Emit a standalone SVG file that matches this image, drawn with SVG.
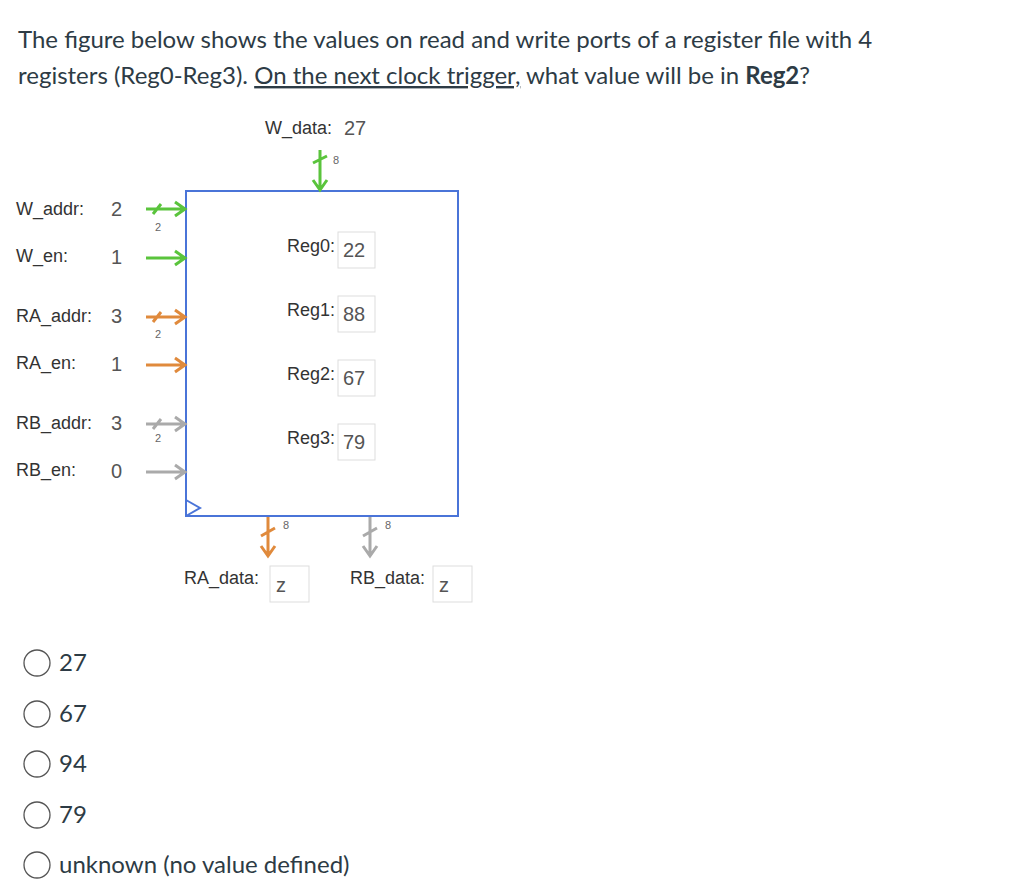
<svg xmlns="http://www.w3.org/2000/svg" width="1024" height="896" viewBox="0 0 1024 896">
<style>
.q{font-family:Lato,"Open Sans",sans-serif;font-size:24px;fill:#2d3b45}
.l{font-family:"Liberation Sans",Arial,sans-serif;font-size:18px;fill:#333}
.v{font-family:"Liberation Sans",Arial,sans-serif;font-size:20px;fill:#555}
.s{font-family:"Liberation Sans",Arial,sans-serif;font-size:11px;fill:#666}
.g{stroke:#5ac43c;stroke-width:3;fill:none}
.o{stroke:#e08a3c;stroke-width:3;fill:none}
.y{stroke:#aaa;stroke-width:3;fill:none}
.rb{fill:#fff;stroke:#ddd;stroke-width:1}
.opt{fill:#fff;stroke:#555;stroke-width:1.3}
</style>
<rect width="1024" height="896" fill="#fff"/>
<text class="q" x="18" y="48">The figure below shows the values on read and write ports of a register file with 4</text>
<text class="q" x="18" y="84">registers (Reg0-Reg3). <tspan text-decoration="underline">On the next clock trigger,</tspan> what value will be in <tspan font-weight="bold">Reg2</tspan>?</text>
<g id="regfile">
<rect x="186" y="191" width="272" height="325" fill="#fff" stroke="#4a74d8" stroke-width="2"/>
<polyline points="186,500 200,508 186,516" fill="none" stroke="#4a74d8" stroke-width="2"/>
<text class="l" x="335" y="252" text-anchor="end">Reg0:</text><rect class="rb" x="338" y="232" width="37" height="36"/><text class="v" x="343" y="257" fill="#222">22</text>
<text class="l" x="335" y="316" text-anchor="end">Reg1:</text><rect class="rb" x="338" y="296" width="37" height="36"/><text class="v" x="343" y="321" fill="#222">88</text>
<text class="l" x="335" y="380" text-anchor="end">Reg2:</text><rect class="rb" x="338" y="360" width="37" height="36"/><text class="v" x="343" y="385" fill="#222">67</text>
<text class="l" x="335" y="444" text-anchor="end">Reg3:</text><rect class="rb" x="338" y="424" width="37" height="36"/><text class="v" x="343" y="449" fill="#222">79</text>
</g>
<g id="labels">
<text class="l" x="16" y="215">W_addr:</text><text class="v" x="111" y="216">2</text>
<text class="l" x="16" y="262">W_en:</text><text class="v" x="111" y="264">1</text>
<text class="l" x="16" y="322">RA_addr:</text><text class="v" x="111" y="323">3</text>
<text class="l" x="16" y="369">RA_en:</text><text class="v" x="111" y="371">1</text>
<text class="l" x="16" y="429">RB_addr:</text><text class="v" x="111" y="430">3</text>
<text class="l" x="16" y="476">RB_en:</text><text class="v" x="111" y="478">0</text>
<text class="l" x="265" y="134">W_data:</text><text class="v" x="344" y="135">27</text>
<text class="l" x="184" y="584">RA_data:</text><rect class="rb" x="270" y="566" width="39" height="36"/><text class="v" x="276" y="592" fill="#222">z</text>
<text class="l" x="350" y="584">RB_data:</text><rect class="rb" x="433" y="566" width="39" height="36"/><text class="v" x="439" y="592" fill="#222">z</text>
</g>
<g id="connectors">
<path class="g" d="M146,209H185M175,202L185,209L175,216M153,214L161,204"/><text class="s" x="155" y="231">2</text>
<path class="g" d="M146,258H185M175,251L185,258L175,265"/>
<path class="o" d="M146,317H185M175,310L185,317L175,324M153,322L161,312"/><text class="s" x="155" y="338">2</text>
<path class="o" d="M146,365H185M175,358L185,365L175,372"/>
<path class="y" d="M146,424H185M175,417L185,424L175,431M153,429L161,419"/><text class="s" x="155" y="442">2</text>
<path class="y" d="M146,472H185M175,465L185,472L175,479"/>
<path class="g" d="M320,150V190M313,180L320,190L327,180M313,163L327,156"/><text class="s" x="333" y="164">8</text>
<path class="o" d="M268,517V556M261,546L268,556L275,546M261,536L275,528"/><text class="s" x="283" y="529">8</text>
<path class="y" d="M370,517V556M363,546L370,556L377,546M363,536L377,528"/><text class="s" x="385" y="529">8</text>
</g>
<g id="options">
<circle class="opt" cx="37" cy="663" r="13"/><text class="q" x="59" y="671">27</text>
<circle class="opt" cx="37" cy="714" r="13"/><text class="q" x="59" y="722">67</text>
<circle class="opt" cx="37" cy="764" r="13"/><text class="q" x="59" y="772">94</text>
<circle class="opt" cx="37" cy="815" r="13"/><text class="q" x="59" y="823">79</text>
<circle class="opt" cx="37" cy="865" r="13"/><text class="q" x="59" y="873">unknown (no value defined)</text>
</g>
</svg>
